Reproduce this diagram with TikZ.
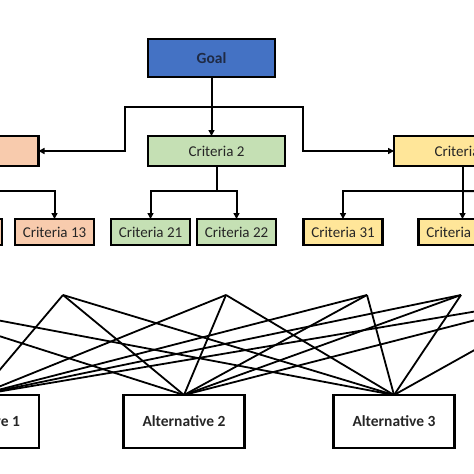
\documentclass[tikz,border=0pt]{standalone}
\usepackage{fontspec}
\setmainfont{Carlito}
\usetikzlibrary{arrows.meta}
\definecolor{goalblue}{HTML}{4472C4}
\definecolor{peach}{HTML}{F8CBAD}
\definecolor{mint}{HTML}{C5E0B4}
\definecolor{sand}{HTML}{FFE699}
\definecolor{ink}{HTML}{262626}
\definecolor{goaltext}{HTML}{1F2A44}
\begin{document}
\begin{tikzpicture}[x=1pt,y=-1pt,
  box/.style={draw=black, line width=2.4pt, inner sep=0pt, outer sep=0pt, text=ink,
    font=\fontsize{15}{18}\selectfont},
  goalbox/.style={box, fill=goalblue, minimum width=127pt, minimum height=38pt,
    font=\bfseries\fontsize{15.5}{18}\selectfont, text=goaltext},
  crit/.style={box, minimum width=137pt, minimum height=30pt},
  subbox/.style={box, minimum width=79pt, minimum height=26pt},
  alt/.style={box, fill=white, minimum width=121pt, minimum height=53pt,
    font=\bfseries\fontsize{15.5}{18}\selectfont},
  link/.style={draw=black, line width=2pt, -{Triangle[length=6pt,width=6pt]}},
  plainlink/.style={draw=black, line width=2pt},
  web/.style={draw=black, line width=1.8pt}
]
\useasboundingbox (0,0) rectangle (474,474);
\fill[white] (0,0) rectangle (474,474);
\clip (0,0) rectangle (474,474);

% nodes
\node[goalbox] (goal) at (211.5,58) {Goal};
\node[crit, fill=peach] (c1) at (-30,151) {Criteria 1};
\node[crit, fill=mint] (c2) at (216.5,151) {Criteria 2};
\node[crit, fill=sand] (c3) at (462.5,151) {Criteria 3};
\node[subbox, fill=peach] (c12) at (-37.5,232) {Criteria 12};
\node[subbox, fill=peach] (c13) at (54.5,232) {Criteria 13};
\node[subbox, fill=mint] (c21) at (150.5,232) {Criteria 21};
\node[subbox, fill=mint] (c22) at (236.5,232) {Criteria 22};
\node[subbox, fill=sand] (c31) at (343,232) {Criteria 31};
\node[subbox, fill=sand] (c32) at (458,232) {Criteria 32};
\node[alt] (alt1) at (-21.5,421.5) {Alternative 1};
\node[alt] (alt2) at (184,421.5) {Alternative 2};
\node[alt] (alt3) at (394,421.5) {Alternative 3};

% goal to criteria
\coordinate (hub) at (211.5,107);
\draw[link] (goal.south) -- (goal.south |- c2.north);
\draw[link] (hub) -- ++(-86.5,0) |- (c1.east);
\draw[link] (hub) -- ++(91.5,0) |- (c3.west);

% criteria to sub-criteria
\draw[link] (c1.south) -- ++(0,25) -| (c12.north);
\draw[link] (c1.south) -- ++(0,25) -| (c13.north);
\draw[link] (c2.south) -- ++(0,25) -| (c21.north);
\draw[link] (c2.south) -- ++(0,25) -| (c22.north);
\draw[link] (c3.south) -- ++(0,25) -| (c31.north);
\draw[link] (c3.south) -- (c3.south |- c32.north);
\coordinate (c3end) at (600,192);
\draw[plainlink] (c3.south) ++(0,25) -- (c3end);

% sub-criteria apexes to alternatives
\coordinate (a1) at (-120,298);
\coordinate (a2) at (63,295);
\coordinate (a3) at (226,295);
\coordinate (a4) at (367,295);
\coordinate (a5) at (461,295);
\coordinate (a6) at (573,295);
\foreach \a in {a1,a2,a3,a4,a5,a6}{
  \foreach \b in {alt1,alt2,alt3}{
    \draw[web] (\a) -- (\b.north);
  }
}
\end{tikzpicture}
\end{document}
